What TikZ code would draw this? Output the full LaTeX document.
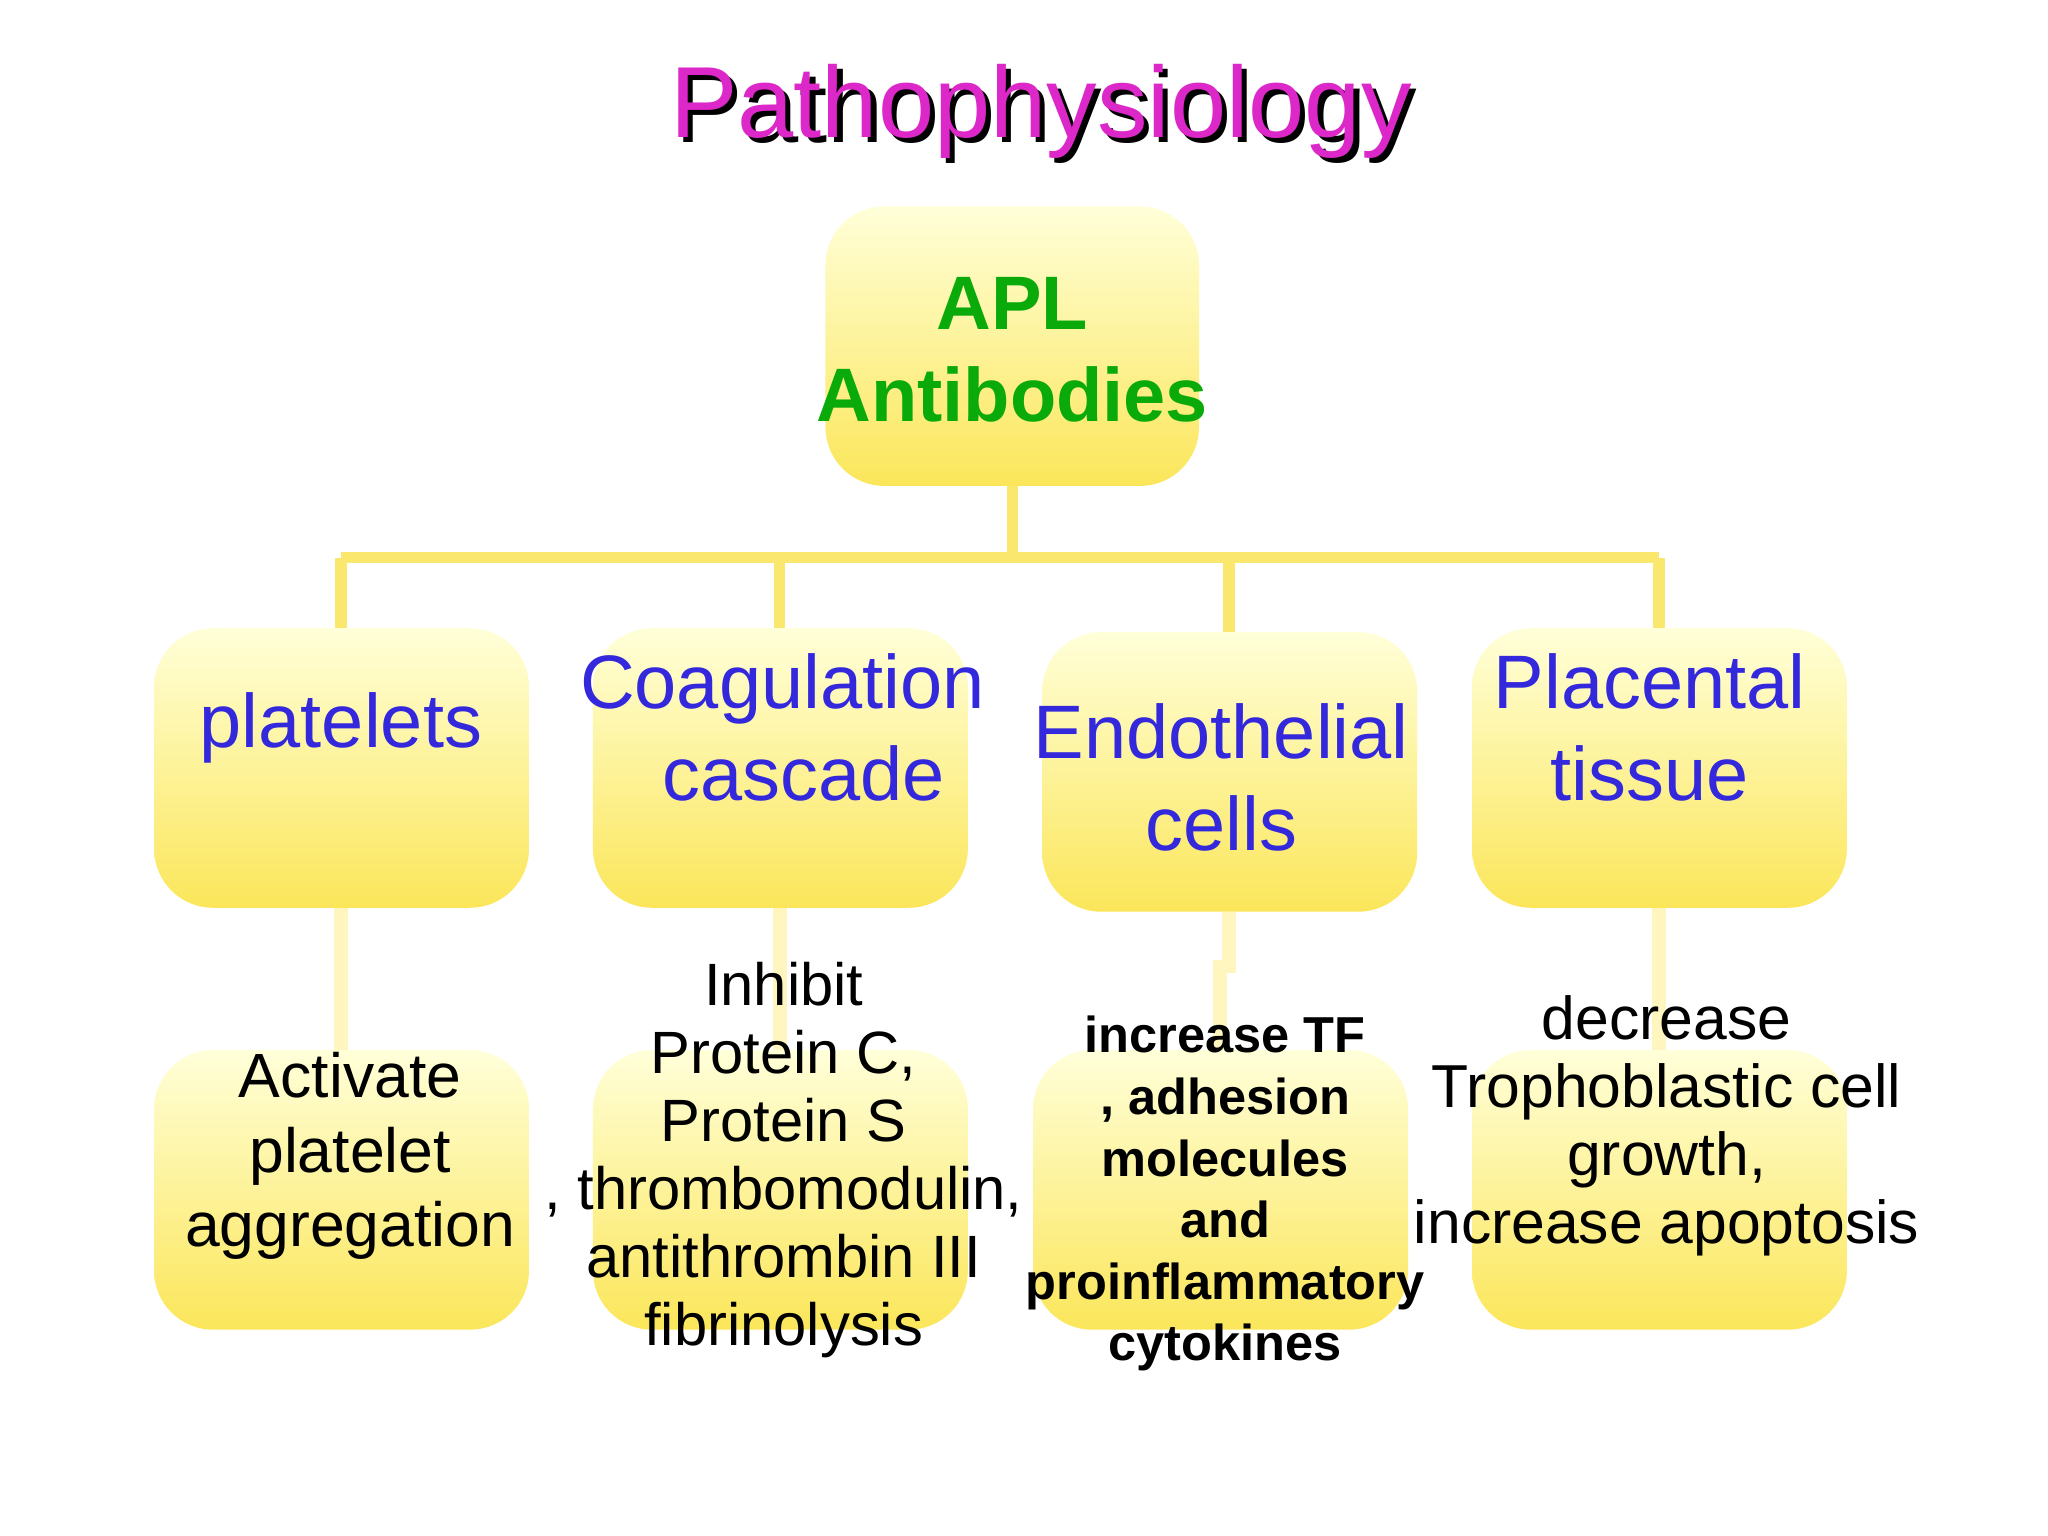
\documentclass[tikz,border=0pt]{standalone}
\usepackage{fontspec}
\setmainfont{Liberation Sans}
\begin{document}
\begin{tikzpicture}[x=0.01cm,y=-0.01cm,
  box/.style={rounded corners=0.45cm, shading angle=135, top color=yellow!15!white, bottom color={rgb,255:red,251;green,230;blue,90}, draw=none},
  link/.style={draw={rgb,255:red,250;green,232;blue,110}, line width=2.5pt},
  faint/.style={draw={rgb,255:red,255;green,245;blue,190}, line width=3pt},
  blu/.style={text={rgb,255:red,51;green,40;blue,220}, font=\fontsize{16.5}{20}\selectfont, align=center},
  blk/.style={text=black, font=\fontsize{13.5}{16.2}\selectfont, align=center}]
\useasboundingbox (0,0) rectangle (1568,1176);
\fill[white] (0,0) rectangle (1568,1176);
% title
\node[text=black, font=\fontsize{22}{26}\selectfont] (tsh) at (801,89) {Pathophysiology};
\node[text={rgb,255:red,220;green,40;blue,200}, font=\fontsize{22}{26}\selectfont] (title) at (797,85) {Pathophysiology};
% connectors
\coordinate (top) at (775,427);
\coordinate (hl) at (261,427);
\coordinate (hr) at (1270,427);
\draw[link] (775,372) -- (top);
\draw[link] (hl) -- (hr);
\draw[link] (261,427) -- (261,481);
\draw[link] (597,427) -- (597,481);
\draw[link] (941,427) -- (941,484);
\draw[link] (1270,427) -- (1270,481);
\draw[faint] (261,695) -- (261,804);
\draw[faint] (597,695) -- (597,804);
\draw[faint] (941,698) -- (941,740) -- (934,740) -- (934,804);
\draw[faint] (1270,695) -- (1270,804);
% boxes
\shade[box] (632,158) rectangle (918,372);
\node[text={rgb,255:red,10;green,170;blue,10}, font=\bfseries\fontsize{16.5}{20}\selectfont, align=center] (apl) at (775,268) {APL\\Antibodies};
\shade[box] (118,481) rectangle (405,695);
\shade[box] (454,481) rectangle (741,695);
\shade[box] (798,484) rectangle (1085,698);
\shade[box] (1127,481) rectangle (1414,695);
\node[blu] (pl) at (261,557) {platelets};
\node[blu] (co) at (599,557) {Coagulation\\\ \ cascade};
\node[blu] (en) at (935,595) {Endothelial\\cells};
\node[blu] (pc) at (1263,557) {Placental\\tissue};
\shade[box] (118,804) rectangle (405,1018);
\shade[box] (454,804) rectangle (741,1018);
\shade[box] (791,804) rectangle (1078,1018);
\shade[box] (1127,804) rectangle (1414,1018);
\node[blk, font=\fontsize{13.6}{16.2}\selectfont] (a1) at (268,885) {Activate\\platelet\\aggregation};
\node[blk, font=\fontsize{13}{14.8}\selectfont] (a2) at (600,888) {Inhibit\\Protein C,\\Protein S\\, thrombomodulin,\\antithrombin III\\fibrinolysis};
\node[blk, font=\bfseries\fontsize{11}{13.4}\selectfont] (a3) at (938,914) {increase TF\\, adhesion\\molecules\\and\\proinflammatory\\cytokines};
\node[blk, font=\fontsize{13.2}{14.8}\selectfont] (a4) at (1276,862) {decrease\\Trophoblastic cell\\growth,\\increase apoptosis};
\end{tikzpicture}
\end{document}
